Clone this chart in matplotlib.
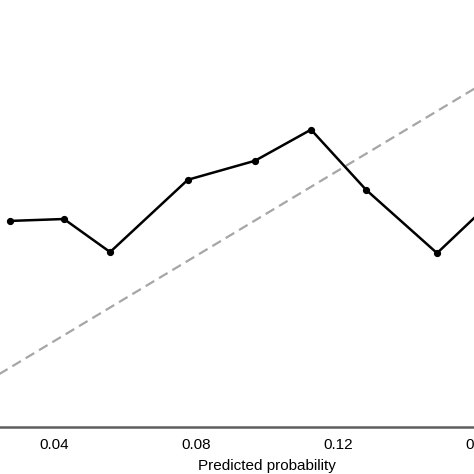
import matplotlib
matplotlib.use("Agg")
import matplotlib.pyplot as plt

plt.rcParams['font.family'] = ['Liberation Sans', 'DejaVu Sans']

# Calibration data: predicted vs observed probability
predicted = [0.0276, 0.0428, 0.0558, 0.0777, 0.0966, 0.1124, 0.1279, 0.1479, 0.1680]
observed = [0.0964, 0.0973, 0.0818, 0.1157, 0.1246, 0.1392, 0.1110, 0.0813, 0.1130]
ideal = [0.0, 0.2]
xticks = [0.04, 0.08, 0.12, 0.16]
xticklabels = ["0.04", "0.08", "0.12", "0.16"]

fig = plt.figure(figsize=(4.74, 4.74), dpi=100)
W = 474.0
# axes extends beyond the visible canvas (cropped figure)
left_px = -88.0
right_px = 622.0
bottom_px = 426.5
ax = fig.add_axes([left_px / W, (W - bottom_px) / W, (right_px - left_px) / W, bottom_px / W])

ax.plot(ideal, ideal, color='#a6a6a6', lw=1.6, linestyle=(0, (4.5, 2.5)), zorder=1)
ax.plot(predicted, observed, color='black', lw=1.8, marker='o', markersize=4.2, zorder=2)

ax.set_xlim(0, 0.2)
ax.set_ylim(0, 0.2)
ax.set_xticks(xticks)
ax.set_xticklabels(xticklabels, fontsize=11)
ax.set_yticks([])
ax.tick_params(axis='x', length=0, pad=8.5, colors='black')
for s in ['top', 'right', 'left']:
    ax.spines[s].set_visible(False)
ax.spines['bottom'].set_color('#5e5e5e')
ax.spines['bottom'].set_linewidth(1.8)
ax.set_xlabel("Predicted probability", fontsize=11, labelpad=5)

fig.savefig("out.png", dpi=100)
